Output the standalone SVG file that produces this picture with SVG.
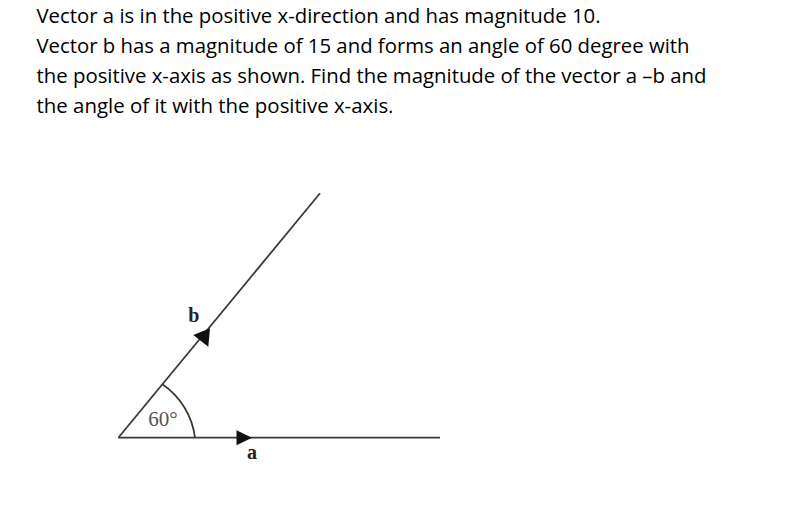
<svg xmlns="http://www.w3.org/2000/svg" width="809" height="507" viewBox="0 0 809 507">
<style>
.q{font-family:"Open Sans","Noto Sans","Liberation Sans",sans-serif;font-size:20px;fill:#000}
.ln{stroke:#3a3a3a;stroke-width:1.8;fill:none}
.lab{font-family:"Liberation Serif","DejaVu Serif",serif;font-weight:bold;font-size:20px;fill:#222}
</style>
<rect width="809" height="507" fill="#fff"/>
<g id="question">
<text class="q" x="36.5" y="23.3" textLength="564" lengthAdjust="spacingAndGlyphs">Vector a is in the positive x-direction and has magnitude 10.</text>
<text class="q" x="36.5" y="53.3" textLength="653" lengthAdjust="spacingAndGlyphs">Vector b has a magnitude of 15 and forms an angle of 60 degree with</text>
<text class="q" x="36.5" y="83.3" textLength="670" lengthAdjust="spacingAndGlyphs">the positive x-axis as shown. Find the magnitude of the vector a –b and</text>
<text class="q" x="36.5" y="113.3" textLength="357" lengthAdjust="spacingAndGlyphs">the angle of it with the positive x-axis.</text>
</g>
<g id="connectors">
<line id="vec-a" class="ln" x1="118.3" y1="437.7" x2="440" y2="437.7"/>
<line id="vec-b" class="ln" x1="118.3" y1="437.7" x2="320" y2="193.3"/>
<path id="angle-arc" class="ln" d="M195,437.7 A76,76 0 0 0 162,384"/>
<polygon fill="#111" points="252,437.7 236.5,430.2 236.5,445.2"/>
<polygon fill="#111" points="210,328.3 193.3,335 208.3,346.7"/>
</g>
<g id="label-b"><text class="lab" x="193.7" y="322" text-anchor="middle">b</text></g>
<g id="label-a"><text class="lab" x="252" y="459" text-anchor="middle">a</text></g>
<g id="label-angle"><text x="163" y="425.7" text-anchor="middle" font-family="Liberation Serif,DejaVu Serif,serif" font-size="21" fill="#555">60°</text></g>
</svg>
